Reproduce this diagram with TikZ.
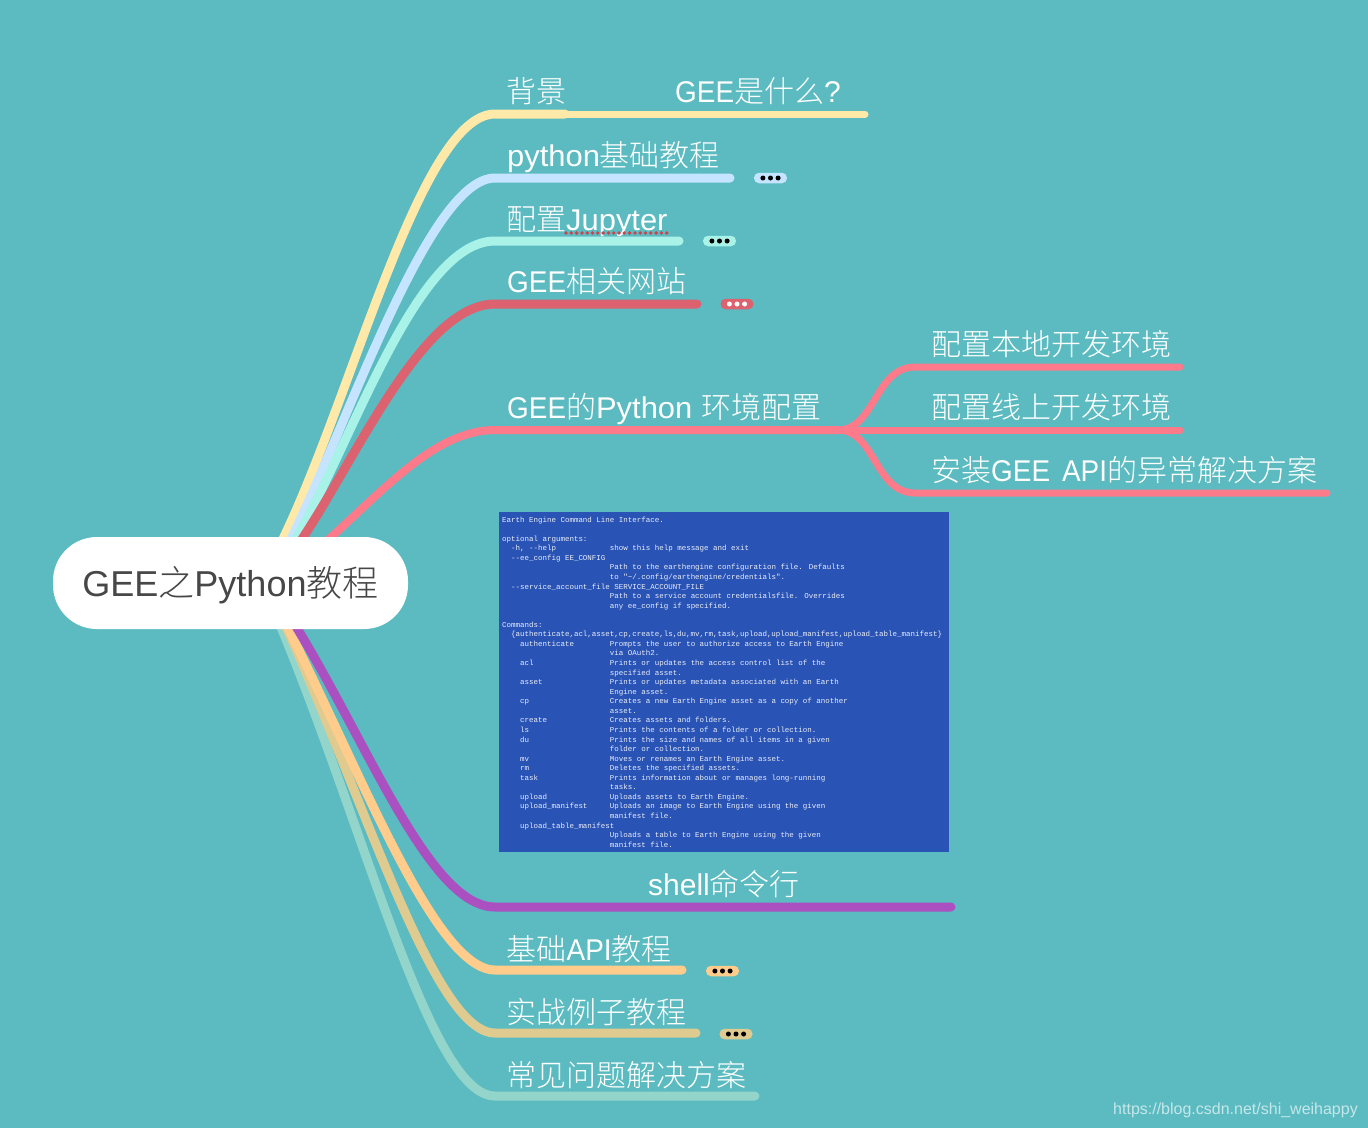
\documentclass[tikz,border=0pt]{standalone}
\usepackage{fontspec}
\setmainfont{Liberation Sans}
\newfontfamily\cjk{Noto Sans CJK SC Light}
\newfontfamily\capsfont[FakeStretch=0.93]{Liberation Sans}
\newfontfamily\widefont[FakeStretch=1.03]{Liberation Sans}
\newfontfamily\shellfont{Liberation Mono}
\newcommand{\zh}[1]{{\cjk #1}}
\newcommand{\caps}[1]{{\capsfont #1}}
\newcommand{\wide}[1]{{\widefont #1}}
\newlength{\cw}\setlength{\cw}{4.49pt}
\newcommand{\row}[3]{\makebox[24\cw][l]{\hspace*{#1\cw}#2}#3\\}
\definecolor{bg}{HTML}{5BBBC1}
\definecolor{cYellow}{HTML}{FFE9A8}
\definecolor{cBlue}{HTML}{C5E4FF}
\definecolor{cCyan}{HTML}{A8F2E8}
\definecolor{cRed}{HTML}{DC626F}
\definecolor{cPink}{HTML}{FD7A8A}
\definecolor{cPurple}{HTML}{AB50C0}
\definecolor{cOrange}{HTML}{FFCC8C}
\definecolor{cTan}{HTML}{DFCB8F}
\definecolor{cGreen}{HTML}{93D5CB}
\definecolor{shellblue}{HTML}{2953B5}
\definecolor{squiggle}{HTML}{C9454F}
\tikzset{
 x=1pt,y=-1pt,
 branch/.style={draw=#1,line width=9pt,line cap=round},
 subbranch/.style={draw=#1,line width=7pt,line cap=round},
 label/.style={anchor=base west,inner sep=0pt,text=white,font=\fontsize{30}{36}\selectfont},
 pill/.style={fill=#1,rounded corners=5pt,minimum width=33pt,minimum height=10.5pt,inner sep=0pt},
 dot/.style={circle,fill=#1,inner sep=0pt,minimum size=5pt},
}
\newcommand{\pillat}[5]{%
 \node[pill=#4] (#1) at (#2,#3) {};
 \node[dot=#5] (#1a) at (#2-7.6,#3) {};
 \node[dot=#5] (#1b) at (#2,#3) {};
 \node[dot=#5] (#1c) at (#2+7.6,#3) {};
}
\begin{document}
\begin{tikzpicture}
\useasboundingbox (0,0) rectangle (1368,1128);
\fill[bg] (0,0) rectangle (1368,1128);
% branch anchors
\coordinate (s1) at (280,545); \coordinate (e1) at (495,114); \coordinate (f1) at (565,114); \coordinate (g1) at (865,114);
\coordinate (s2) at (288,545); \coordinate (e2) at (495,178); \coordinate (f2) at (730,178);
\coordinate (s3) at (292,545); \coordinate (e3) at (495,241); \coordinate (f3) at (679,241);
\coordinate (s4) at (298,545); \coordinate (e4) at (495,304); \coordinate (f4) at (697,304);
\coordinate (s5) at (322,545); \coordinate (e5) at (495,430); \coordinate (f5) at (838,430);
\coordinate (t1) at (915,367); \coordinate (u1) at (1180,367);
\coordinate (u2) at (1180,430);
\coordinate (t3) at (915,493); \coordinate (u3) at (1327,493);
\coordinate (s6) at (292,620); \coordinate (e6) at (495,907); \coordinate (f6) at (951,907);
\coordinate (s7) at (284,620); \coordinate (e7) at (495,970); \coordinate (f7) at (682,970);
\coordinate (s8) at (283,620); \coordinate (e8) at (495,1033); \coordinate (f8) at (696,1033);
\coordinate (s9) at (278,620); \coordinate (e9) at (495,1096); \coordinate (f9) at (755,1096);
% upper branches
\draw[branch=cYellow] (s1) .. controls (352,400) and (420,114) .. (e1) -- (f1);
\draw[subbranch=cYellow] (f1) -- (g1);
\draw[branch=cBlue] (s2) .. controls (346,430) and (428,178) .. (e2) -- (f2);
\draw[branch=cCyan] (s3) .. controls (350,450) and (415,241) .. (e3) -- (f3);
\draw[branch=cRed] (s4) .. controls (356,460) and (422,304) .. (e4) -- (f4);
\draw[subbranch=cPink,line width=8pt] (s5) .. controls (380,495) and (433,430) .. (e5) -- (f5);
\draw[subbranch=cPink] (f5) .. controls (875,430) and (875,367) .. (t1) -- (u1);
\draw[subbranch=cPink] (f5) -- (u2);
\draw[subbranch=cPink] (f5) .. controls (875,430) and (875,493) .. (t3) -- (u3);
% lower branches
\draw[branch=cGreen] (s9) .. controls (366,830) and (430,1096) .. (e9) -- (f9);
\draw[branch=cTan] (s8) .. controls (365,800) and (434,1033) .. (e8) -- (f8);
\draw[branch=cOrange] (s7) .. controls (360,770) and (435,970) .. (e7) -- (f7);
\draw[branch=cPurple] (s6) .. controls (367,740) and (429,907) .. (e6) -- (f6);
% root
\node[fill=white,rounded corners=44pt,minimum width=355pt,minimum height=92pt,inner sep=0pt,text height=33pt,text depth=7pt,text=black!72,font=\fontsize{36}{42}\selectfont] (root) at (230.5,583) {GEE\zh{之}Python\zh{教程}};
% labels
\node[label] (l1a) at (506,102.5) {\zh{背景}};
\node[label] (l1b) at (675,102.5) {\caps{GEE}\zh{是什么}?};
\node[label] (l2) at (507,166) {\wide{python}\zh{基础教程}};
\node[label] (l3) at (506,230) {\zh{配置}\wide{Jupyter}};
\node[label] (l4) at (507,292) {\caps{GEE}\zh{相关网站}};
\node[label] (l5) at (507,418) {\caps{GEE}\zh{的}\wide{Python} \hspace{1pt}\zh{环境配置}};
\node[label] (l51) at (931,355) {\zh{配置本地开发环境}};
\node[label] (l52) at (931,418) {\zh{配置线上开发环境}};
\node[label] (l53) at (931,481) {\zh{安装}\caps{GEE}\hspace{12pt}\caps{API}\zh{的异常解决方案}};
\node[label] (l6) at (648,895) {shell\zh{命令行}};
\node[label] (l7) at (506.5,960) {\zh{基础}\caps{API}\zh{教程}};
\node[label] (l8) at (506.5,1023) {\zh{实战例子教程}};
\node[label] (l9) at (506.5,1086) {\zh{常见问题解决方案}};
% spell-check underline
\coordinate (sq1) at (566,233); \coordinate (sq2) at (671,233);
\draw[draw=squiggle,line width=3.8pt,line cap=round,dash pattern=on 0pt off 5.3pt] (sq1) -- (sq2);
% collapsed markers
\pillat{p2}{770.5}{178}{cBlue}{black}
\pillat{p3}{719.5}{241}{cCyan}{black}
\pillat{p4}{737}{304}{cRed}{white}
\pillat{p7}{722.5}{971}{cOrange}{black}
\pillat{p8}{736}{1034}{cTan}{black}
% screenshot
\node[anchor=north west,fill=shellblue,minimum width=450pt,minimum height=339.5pt,inner sep=0pt] (shot) at (499,512) {};
\node[anchor=north west,inner sep=0pt,align=left,text=white!90!shellblue,font=\shellfont\fontsize{7.48}{9.56}\selectfont] (shottext) at (502,516.5) {%
Earth Engine Command Line Interface.\\[9.56pt]
optional arguments:\\
\row{2}{-h, --help}{show this help message and exit}
\row{2}{--ee\_config EE\_CONFIG}{}
\row{0}{}{Path to the earthengine configuration file. Defaults}
\row{0}{}{to "\textasciitilde/.config/earthengine/credentials".}
\hspace*{2\cw}--service\_account\_file SERVICE\_ACCOUNT\_FILE\\
\row{0}{}{Path to a service account credentialsfile. Overrides}
\row{0}{}{any ee\_config if specified.}
\mbox{}\\
Commands:\\
\hspace*{2\cw}\{authenticate,acl,asset,cp,create,ls,du,mv,rm,task,upload,upload\_manifest,upload\_table\_manifest\}\\
\row{4}{authenticate}{Prompts the user to authorize access to Earth Engine}
\row{0}{}{via OAuth2.}
\row{4}{acl}{Prints or updates the access control list of the}
\row{0}{}{specified asset.}
\row{4}{asset}{Prints or updates metadata associated with an Earth}
\row{0}{}{Engine asset.}
\row{4}{cp}{Creates a new Earth Engine asset as a copy of another}
\row{0}{}{asset.}
\row{4}{create}{Creates assets and folders.}
\row{4}{ls}{Prints the contents of a folder or collection.}
\row{4}{du}{Prints the size and names of all items in a given}
\row{0}{}{folder or collection.}
\row{4}{mv}{Moves or renames an Earth Engine asset.}
\row{4}{rm}{Deletes the specified assets.}
\row{4}{task}{Prints information about or manages long-running}
\row{0}{}{tasks.}
\row{4}{upload}{Uploads assets to Earth Engine.}
\row{4}{upload\_manifest}{Uploads an image to Earth Engine using the given}
\row{0}{}{manifest file.}
\hspace*{4\cw}upload\_table\_manifest\\
\row{0}{}{Uploads a table to Earth Engine using the given}
\row{0}{}{manifest file.}
};
% watermark
\node[anchor=base east,inner sep=0pt,text=white!65!bg,font=\fontsize{16}{20}\selectfont] (wm) at (1358,1114) {https://blog.csdn.net/shi\_weihappy};
\end{tikzpicture}
\end{document}
